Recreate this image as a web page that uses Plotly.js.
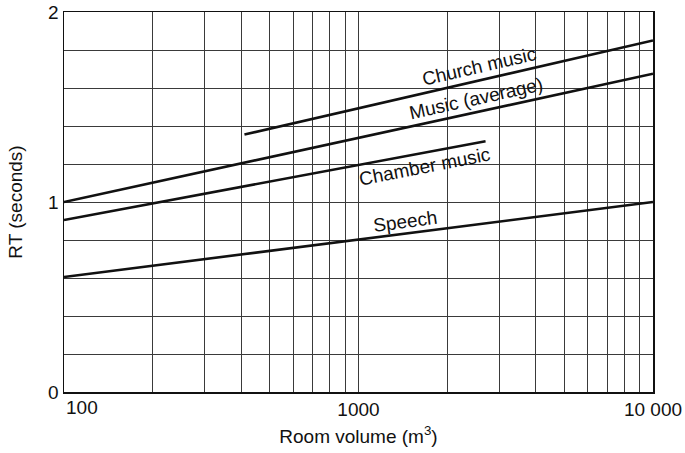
<!DOCTYPE html>
<html>
<head>
<meta charset="utf-8">
<script src="https://cdn.plot.ly/plotly-3.0.1.min.js"></script>
<style>html,body{margin:0;padding:0;background:#fff;}#chart{width:685px;height:453px;}</style>
</head>
<body>
<div id="chart"></div>
<script>
// Data (room volume in m^3, RT in seconds)
const churchX = [410, 10000];
const churchY = [1.355, 1.85];
const musicAvgX = [100, 10000];
const musicAvgY = [1.0, 1.675];
const chamberX = [100, 2700];
const chamberY = [0.905, 1.32];
const speechX = [100, 10000];
const speechY = [0.605, 1.0];

// Labels placed along the curves (data coordinates) and their angles
const labelTexts = ['Church music', 'Music (average)', 'Chamber music', 'Speech'];
const labelX = [2560, 2500, 1680, 1435];
const labelY = [1.714, 1.546, 1.188, 0.898];
const labelAngle = [-13, -12.5, -11, -7.5];

// Axis ticks
const xTickVals = [100,200,300,400,500,600,700,800,900,1000,2000,3000,4000,5000,6000,7000,8000,9000,10000];
const xTickText = ['','','','','','','','','','1000','','','','','','','','','10\u00a0000'];
const xFirstTickLabel = '100';
const yTickVals = [0,0.2,0.4,0.6,0.8,1.0,1.2,1.4,1.6,1.8,2.0];
const yTickText = ['0','','','','','1','','','','','2'];

const FONT = 'Liberation Sans, Arial, sans-serif';
const lineStyle = {color: '#111', width: 2.6};
const traces = [
  {x: churchX, y: churchY, mode: 'lines', line: lineStyle, name: 'Church music'},
  {x: musicAvgX, y: musicAvgY, mode: 'lines', line: lineStyle, name: 'Music (average)'},
  {x: chamberX, y: chamberY, mode: 'lines', line: lineStyle, name: 'Chamber music'},
  {x: speechX, y: speechY, mode: 'lines', line: lineStyle, name: 'Speech'}
];

const annotations = labelTexts.map((t, i) => ({
  text: t, x: Math.log10(labelX[i]), y: labelY[i], xref: 'x', yref: 'y',
  showarrow: false, textangle: labelAngle[i], xanchor: 'center', yanchor: 'middle',
  font: {size: 19, color: '#111', family: FONT}
}));
// first x tick label sits to the right of its gridline (as in the reference)
annotations.push({
  text: xFirstTickLabel, x: Math.log10(xTickVals[0]), y: 0, xref: 'x', yref: 'paper',
  showarrow: false, xanchor: 'left', yanchor: 'middle', yshift: -15,
  font: {size: 19, color: '#111', family: FONT}
});

const layout = {
  width: 685, height: 453,
  margin: {l: 64, r: 32, t: 12, b: 61},
  paper_bgcolor: '#fff', plot_bgcolor: '#fff',
  showlegend: false,
  font: {family: FONT, size: 19, color: '#111'},
  xaxis: {
    type: 'log', range: [2, 4],
    tickmode: 'array', tickvals: xTickVals, ticktext: xTickText,
    ticks: '', showgrid: true, gridcolor: '#3a3a3a', gridwidth: 1,
    showline: true, mirror: true, linecolor: '#111', linewidth: 1.5,
    zeroline: false, tickfont: {size: 19},
    title: {text: 'Room volume (m<sup>3</sup>)', font: {size: 19}, standoff: 10}
  },
  yaxis: {
    range: [0, 2],
    tickmode: 'array', tickvals: yTickVals, ticktext: yTickText,
    ticks: '', showgrid: true, gridcolor: '#3a3a3a', gridwidth: 1,
    showline: true, mirror: true, linecolor: '#111', linewidth: 1.5,
    zeroline: false, tickfont: {size: 19},
    title: {text: 'RT (seconds)', font: {size: 19}, standoff: 20}
  },
  annotations: annotations
};

Plotly.newPlot('chart', traces, layout, {staticPlot: true, displayModeBar: false});
</script>
</body>
</html>
